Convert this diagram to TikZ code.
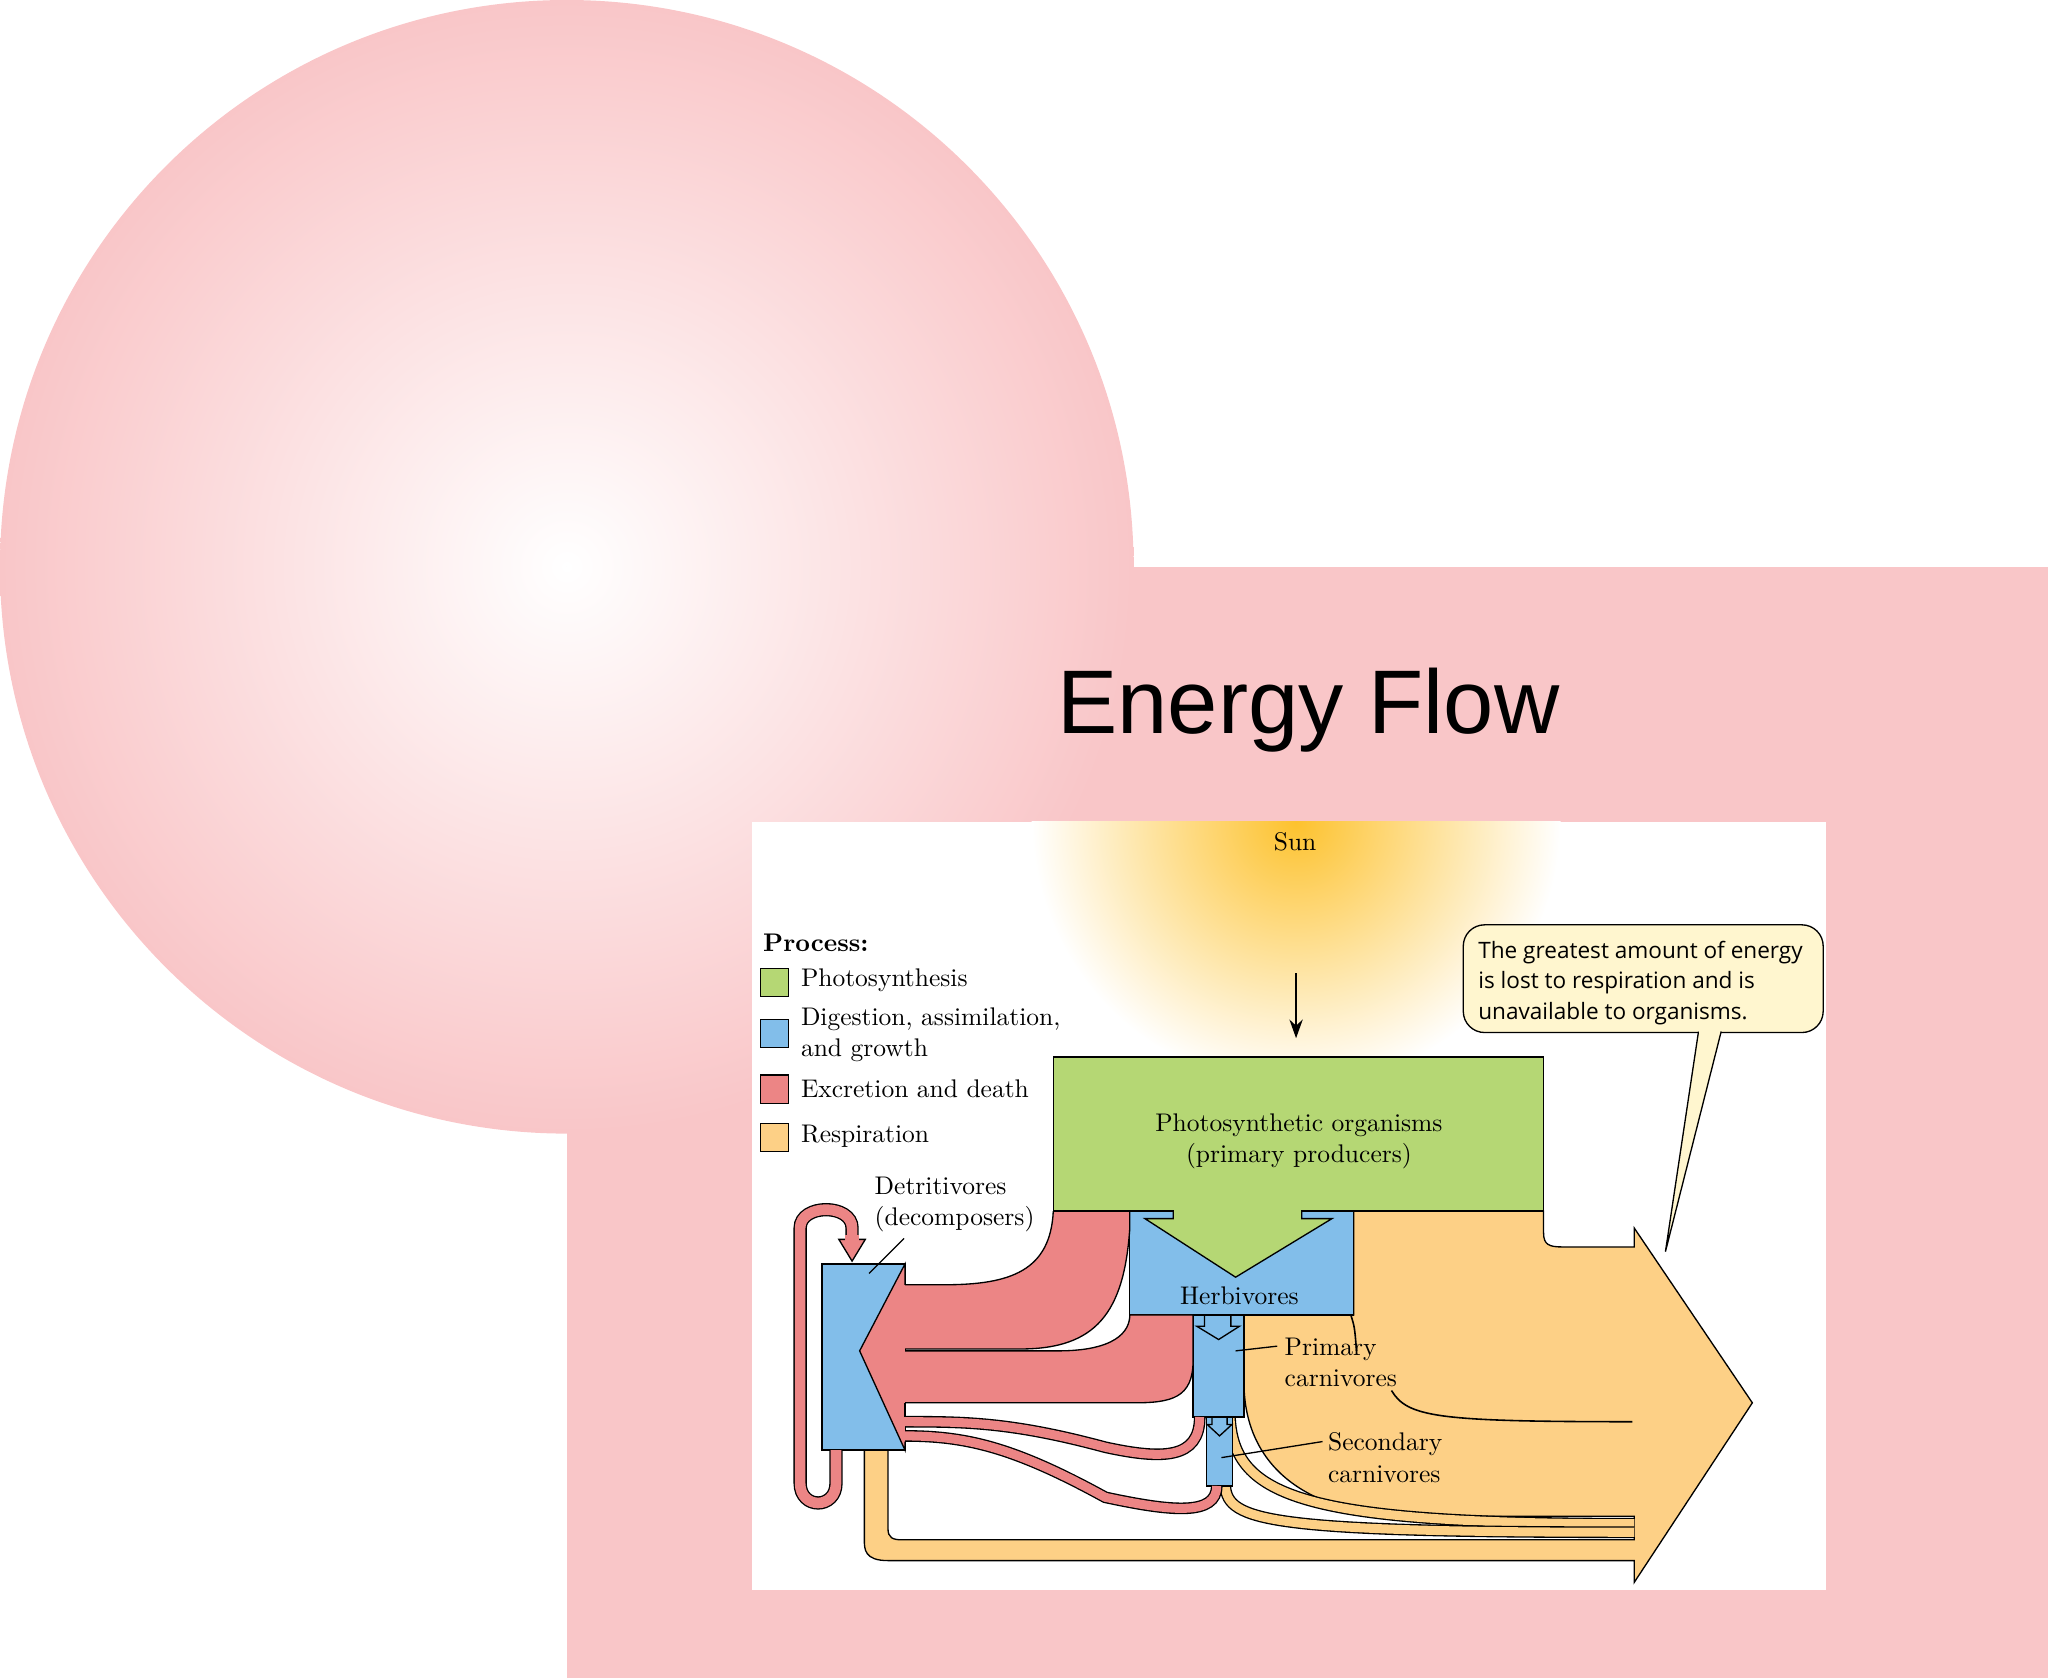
\documentclass[tikz,border=0pt]{standalone}
\usepackage{fontspec}
\usetikzlibrary{arrows.meta}
\setmainfont{Latin Modern Roman}
\newfontfamily\titlefont{Liberation Sans}
\newfontfamily\callfont{Open Sans}
\definecolor{gr}{HTML}{B5D774}
\definecolor{bl}{HTML}{82BEEA}
\definecolor{rd}{HTML}{EC8585}
\definecolor{og}{HTML}{FDD086}
\definecolor{pk}{HTML}{F9C6C8}
\definecolor{cy}{HTML}{FFF6CF}
\definecolor{sun}{HTML}{FDC22E}
\begin{document}
\begin{tikzpicture}[x=0.0125cm,y=-0.0125cm,
  txt/.style={font=\fontsize{9.6}{11.7}\selectfont,align=center},
  ed/.style={draw=black,line width=0.5pt},
  band/.style={draw=black,line width=0.5pt,double distance=3.4pt},
  box/.style={ed,minimum width=10.6pt,minimum height=10.6pt,inner sep=0pt}]
% background
\fill[pk] (0,0) rectangle (1568,1176);
\shade[inner color=white,outer color=pk] (0,0) circle[radius=600];
\fill[pk!60] (0,0) rectangle (0,0);
\useasboundingbox (0,0) rectangle (1568,1176);
\node[font=\titlefont\fontsize{34}{40}\selectfont] (title) at (785,152) {Energy Flow};
% panel
\fill[white] (196,270) rectangle (1333,1083);
\begin{scope}
\clip (196,270) rectangle (1333,1083);
\shade[inner color=sun,outer color=white] (772,270) circle[radius=280];
\end{scope}
\node[txt] (sun) at (771,291) {Sun};
\coordinate (sa) at (772,430);
\coordinate (sb) at (772,499);
\draw[-{Stealth[length=7pt,width=5pt]},line width=0.6pt] (sa) -- (sb);
% orange respiration
\filldraw[fill=og,ed] (717,792)--(833,792)--(833,682)--(1034,682)--(1034,705) .. controls (1034,718) and (1040,720) .. (1055,720)--(1130,720)--(1130,700)--(1255,885)--(1130,1075)--(1130,1052)--(340,1052) .. controls (315,1052) and (315,1040) .. (315,1030)--(315,935)--(340,935)--(340,1018) .. controls (340,1028) and (345,1030) .. (355,1030)--(1130,1030)--(1130,1005)--(900,1005) .. controls (780,1005) and (720,950) .. (717,870)--cycle;
\draw[band,double=og] (702,900) .. controls (706,985) and (780,1013) .. (1130,1013);
\draw[band,double=og] (697,973) .. controls (700,1010) and (740,1022) .. (1130,1022);
\draw[line width=0.6pt] (873,872) .. controls (890,900) and (920,905) .. (1128,905);
\draw[line width=0.6pt] (830,792) .. controls (834,805) .. (836,830);
% blue boxes
\filldraw[fill=bl,ed] (596,682) rectangle (833,792);
\filldraw[fill=bl,ed] (663,792) rectangle (717,900);
\filldraw[fill=bl,ed] (677,900) rectangle (705,973);
\filldraw[fill=bl,ed] (270,738) rectangle (358,935);
\draw[line width=0.5pt] (675,793)--(675,804)--(667,804)--(690,818)--(712,804)--(703,804)--(703,793);
\draw[line width=0.5pt] (683,900)--(683,908)--(678,908)--(691,920)--(704,908)--(699,908)--(699,900);
% red bands
\filldraw[fill=rd,ed] (515,682)--(596,682)--(596,700) .. controls (590,790) and (560,828) .. (480,828)--(356,828)--(356,760)--(400,760) .. controls (470,760) and (512,745) .. (515,682);
\filldraw[fill=rd,ed] (596,792)--(663,792)--(663,840) .. controls (663,880) and (640,885) .. (600,885)--(356,885)--(356,830)--(520,830) .. controls (580,830) and (596,810) .. (596,792);
\draw[band,double=rd] (670,900) .. controls (670,945) and (630,945) .. (570,932) .. controls (470,905) and (420,905) .. (356,905);
\draw[band,double=rd] (688,973) .. controls (688,1005) and (640,1000) .. (570,985) .. controls (470,930) and (420,920) .. (356,920);
\fill[rd] (358,738)--(310,830)--(358,935)--cycle;
\draw[line width=0.5pt] (358,760)--(358,738)--(310,830)--(358,935)--(358,926);
\draw[line width=0.5pt] (358,885)--(358,900);
% detritivore loop
\draw[band,double=rd,double distance=4pt] (285,935)--(285,970) .. controls (285,998) and (247,998) .. (247,970)--(247,700) .. controls (247,674) and (302,674) .. (302,700)--(302,712);
\filldraw[fill=rd,ed] (288,712)--(316,712)--(302,735)--cycle;
\fill[rd] (295,707) rectangle (309,714);
% green producers
\filldraw[fill=gr,ed] (515,519) rectangle (1034,682);
\filldraw[fill=gr,ed] (642,682)--(642,690)--(612,690)--(708,752)--(810,690)--(778,690)--(778,682);
\fill[gr] (643,680) rectangle (777,684);
\node[txt] (prod) at (775,608) {Photosynthetic organisms\\(primary producers)};
\node[txt] (herb) at (712,772) {Herbivores};
\node[txt,align=left,anchor=west] (pc) at (750,842) {Primary\\carnivores};
\node[txt,align=left,anchor=west] (sc) at (796,943) {Secondary\\carnivores};
\node[txt,align=left,anchor=west] (det) at (316,675) {Detritivores\\(decomposers)};
\coordinate (pcp) at (708,830);
\coordinate (scp) at (693,943);
\coordinate (detp) at (320,748);
\draw[line width=0.5pt] (752,825) -- (pcp);
\draw[line width=0.5pt] (800,926) -- (scp);
\draw[line width=0.5pt] (357,711) -- (detp);
% legend
\node[txt,anchor=west,font=\fontsize{9.6}{11.7}\selectfont\bfseries] (proc) at (198,398) {Process:};
\node[box,fill=gr] (l1) at (220,440) {};
\node[box,fill=bl] (l2) at (220,494) {};
\node[box,fill=rd] (l3) at (220,553) {};
\node[box,fill=og] (l4) at (220,604) {};
\node[txt,anchor=west] (t1) at (238,438) {Photosynthesis};
\node[txt,anchor=west,align=left] (t2) at (238,495) {Digestion, assimilation,\\and growth};
\node[txt,anchor=west] (t3) at (238,553) {Excretion and death};
\node[txt,anchor=west] (t4) at (238,603) {Respiration};
% callout
\coordinate (tip) at (1163,725);
\filldraw[fill=cy,ed,rounded corners=8pt] (949,379) rectangle (1330,493);
\filldraw[fill=cy,ed] (1198,492)--(tip)--(1222,492);
\fill[cy] (1199,489) rectangle (1221,494);
\node[font=\callfont\fontsize{8.5}{11.6}\selectfont,align=left,anchor=north west] (call) at (955,386) {The greatest amount of energy\\is lost to respiration and is\\unavailable to organisms.};
\end{tikzpicture}
\end{document}
